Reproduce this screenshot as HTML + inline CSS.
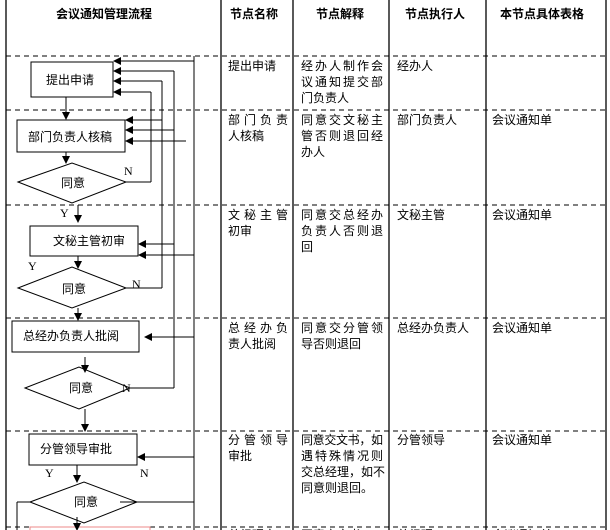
<!DOCTYPE html>
<html><head><meta charset="utf-8"><style>
html,body{margin:0;padding:0;background:#fff;width:610px;height:530px;overflow:hidden}
svg{display:block}
text{font-family:"Liberation Sans","Noto Sans CJK SC",sans-serif;font-size:12px;fill:#000}
.b{font-weight:bold}
.s{font-family:"Liberation Serif",serif;font-size:12px}
</style></head><body>
<svg width="610" height="530" viewBox="0 0 610 530" xmlns="http://www.w3.org/2000/svg">
<defs><marker id="a" markerWidth="8" markerHeight="8" refX="7" refY="4" orient="auto" markerUnits="userSpaceOnUse"><path d="M0,0 L8,4 L0,8 z" fill="#000"/></marker></defs>
<g stroke="#000" stroke-width="1.3" fill="none">
<line x1="6" y1="0" x2="6" y2="530"/>
<line x1="221" y1="0" x2="221" y2="530"/>
<line x1="293" y1="0" x2="293" y2="530"/>
<line x1="389" y1="0" x2="389" y2="530"/>
<line x1="486" y1="0" x2="486" y2="530"/>
<line x1="606" y1="0" x2="606" y2="530"/>
</g>
<g stroke="#000" stroke-width="1" stroke-dasharray="5,4">
<line x1="6" y1="56" x2="606" y2="56"/>
<line x1="6" y1="110" x2="606" y2="110"/>
<line x1="6" y1="205" x2="606" y2="205"/>
<line x1="6" y1="318" x2="606" y2="318"/>
<line x1="6" y1="431" x2="606" y2="431"/>
<line x1="6" y1="527" x2="606" y2="527"/>
</g>
<text class="b" x="56" y="18">会议通知管理流程</text>
<text class="b" x="230" y="18">节点名称</text>
<text class="b" x="316" y="18">节点解释</text>
<text class="b" x="405" y="18">节点执行人</text>
<text class="b" x="500" y="18">本节点具体表格</text>

<g stroke="#000" stroke-width="1" fill="none">
<rect x="31" y="62" width="82" height="35"/>
<rect x="17" y="120" width="108" height="32"/>
<rect x="30" y="226" width="108" height="30"/>
<rect x="12" y="321" width="127" height="31"/>
<rect x="29" y="434" width="108" height="31"/>
<polygon points="18,182 72,163 126,182 72,203"/>
<polygon points="18,288 72,267 126,288 72,308"/>
<polygon points="25,388 79,367 130,388 79,409"/>
<polygon points="30,502 84,482 137,502 84,523"/>
<rect x="30" y="527" width="120" height="6" stroke="#e88"/>
</g>
<g stroke="#000" stroke-width="1" fill="none">
<line x1="194" y1="56" x2="194" y2="530"/>
<line x1="174" y1="71" x2="174" y2="388"/>
<line x1="162" y1="81" x2="162" y2="288"/>
<line x1="151" y1="92" x2="151" y2="182"/>
<line x1="126" y1="182" x2="151" y2="182"/>
<line x1="126" y1="288" x2="162" y2="288"/>
<line x1="130" y1="388" x2="174" y2="388"/>
<line x1="120" y1="502" x2="194" y2="502"/>
<line x1="30" y1="502" x2="17" y2="502"/>
<line x1="17" y1="502" x2="17" y2="530"/>
</g>
<g stroke="#000" stroke-width="1" marker-end="url(#a)">
<line x1="194" y1="61" x2="114" y2="61"/>
<line x1="174" y1="71" x2="114" y2="71"/>
<line x1="162" y1="81" x2="114" y2="81"/>
<line x1="151" y1="92" x2="114" y2="92"/>
<line x1="66" y1="97" x2="66" y2="119"/>
<line x1="162" y1="120" x2="126" y2="120"/>
<line x1="174" y1="130" x2="126" y2="130"/>
<line x1="186" y1="141" x2="126" y2="141"/>
<line x1="66" y1="152" x2="66" y2="163"/>
<line x1="78" y1="205" x2="78" y2="222"/>
<line x1="174" y1="244" x2="139" y2="244"/>
<line x1="194" y1="255" x2="139" y2="255"/>
<line x1="78" y1="256" x2="78" y2="268"/>
<line x1="78" y1="308" x2="78" y2="320"/>
<line x1="194" y1="337" x2="145" y2="337"/>
<line x1="85" y1="357" x2="85" y2="372"/>
<line x1="85" y1="409" x2="85" y2="431"/>
<line x1="194" y1="457" x2="138" y2="457"/>
<line x1="77" y1="465" x2="77" y2="482"/>
<line x1="77" y1="517" x2="77" y2="530"/>
</g>
<text x="46" y="84">提出申请</text>
<text x="28" y="141">部门负责人核稿</text>
<text x="61" y="187">同意</text>
<text x="53" y="245">文秘主管初审</text>
<text x="62" y="293">同意</text>
<text x="23" y="340">总经办负责人批阅</text>
<text x="69" y="392">同意</text>
<text x="40" y="453">分管领导审批</text>
<text x="74" y="506">同意</text>
<text class="s" x="124" y="175">N</text>
<text class="s" x="60" y="217">Y</text>
<text class="s" x="28" y="270">Y</text>
<text class="s" x="132" y="288">N</text>
<text class="s" x="122" y="392">N</text>
<text class="s" x="45" y="477">Y</text>
<text class="s" x="140" y="477">N</text>

<text x="228" y="70">提出申请</text>
<text x="301" y="70" textLength="82">经办人制作会</text>
<text x="301" y="86" textLength="82">议通知提交部</text>
<text x="301" y="102">门负责人</text>
<text x="397" y="70">经办人</text>

<text x="228" y="124" textLength="60">部门负责</text>
<text x="228" y="140">人核稿</text>
<text x="301" y="124" textLength="82">同意交文秘主</text>
<text x="301" y="140" textLength="82">管否则退回经</text>
<text x="301" y="156">办人</text>
<text x="397" y="124">部门负责人</text>
<text x="492" y="124">会议通知单</text>

<text x="228" y="219" textLength="60">文秘主管</text>
<text x="228" y="235">初审</text>
<text x="301" y="219" textLength="82">同意交总经办</text>
<text x="301" y="235" textLength="82">负责人否则退</text>
<text x="301" y="251">回</text>
<text x="397" y="219">文秘主管</text>
<text x="492" y="219">会议通知单</text>

<text x="228" y="332" textLength="60">总经办负</text>
<text x="228" y="348">责人批阅</text>
<text x="301" y="332" textLength="82">同意交分管领</text>
<text x="301" y="348">导否则退回</text>
<text x="397" y="332">总经办负责人</text>
<text x="492" y="332">会议通知单</text>

<text x="228" y="444" textLength="60">分管领导</text>
<text x="228" y="460">审批</text>
<text x="301" y="444" textLength="82">同意交文书，如</text>
<text x="301" y="460" textLength="82">遇特殊情况则</text>
<text x="301" y="476">交总经理，如不</text>
<text x="301" y="492">同意则退回。</text>
<text x="397" y="444">分管领导</text>
<text x="492" y="444">会议通知单</text>

<text x="228" y="539">总经理审</text>
<text x="301" y="539">同意交文书</text>
<text x="397" y="539">总经理</text>
<text x="492" y="539">会议通知单</text>
</svg>
</body></html>
